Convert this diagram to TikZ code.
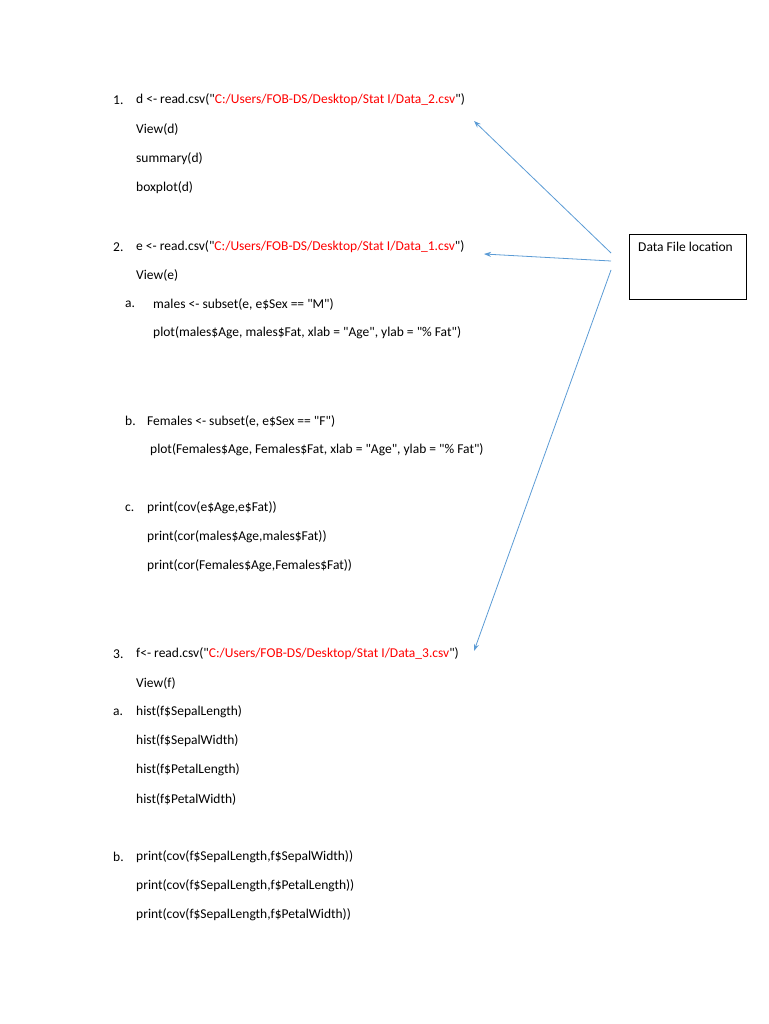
\documentclass[tikz,border=0pt]{standalone}
\usepackage{fontspec}
\setmainfont{Carlito}
\usetikzlibrary{arrows.meta}
\definecolor{arr}{RGB}{91,155,213}
\definecolor{pathred}{RGB}{255,0,0}
\begin{document}
\begin{tikzpicture}[x=1pt,y=-1pt,
  t/.style={anchor=west,inner sep=0pt,font=\fontsize{13.5}{15}\selectfont},
  conn/.style={draw=arr,line width=0.8pt,-{Stealth[length=7pt,width=5pt]}}]
\useasboundingbox (0,0) rectangle (768,1024);
\newcommand{\rp}[1]{\textcolor{pathred}{#1}}
\newcommand{\qq}{\textquotedbl}
\node[t] (n1) at (113,100) {1.};
\node[t] (l1) at (136,100) {d <- read.csv(\qq\rp{C:/Users/FOB-DS/Desktop/Stat I/Data\_2.csv}\qq)};
\node[t] (l2) at (136,130) {View(d)};
\node[t] (l3) at (136,159) {summary(d)};
\node[t] (l4) at (136,188) {boxplot(d)};
\node[t] (n2) at (113,247) {2.};
\node[t] (l5) at (136,247) {e <- read.csv(\qq\rp{C:/Users/FOB-DS/Desktop/Stat I/Data\_1.csv}\qq)};
\node[t] (l6) at (136,275) {View(e)};
\node[t] (na) at (125,304) {a.};
\node[t] (l7) at (153,304) {males <- subset(e, e\$Sex == \qq M\qq)};
\node[t] (l8) at (153,333) {plot(males\$Age, males\$Fat, xlab = \qq Age\qq, ylab = \qq\% Fat\qq)};
\node[t] (nb) at (125,421) {b.};
\node[t] (l9) at (147,421) {Females <- subset(e, e\$Sex == \qq F\qq)};
\node[t] (l10) at (150,450) {plot(Females\$Age, Females\$Fat, xlab = \qq Age\qq, ylab = \qq\% Fat\qq)};
\node[t] (nc) at (125,508) {c.};
\node[t] (l11) at (147,508) {print(cov(e\$Age,e\$Fat))};
\node[t] (l12) at (147,537) {print(cor(males\$Age,males\$Fat))};
\node[t] (l13) at (147,566) {print(cor(Females\$Age,Females\$Fat))};
\node[t] (n3) at (113,654) {3.};
\node[t] (l14) at (136,654) {f<- read.csv(\qq\rp{C:/Users/FOB-DS/Desktop/Stat I/Data\_3.csv}\qq)};
\node[t] (l15) at (136,683) {View(f)};
\node[t] (na2) at (113,712) {a.};
\node[t] (l16) at (136,712) {hist(f\$SepalLength)};
\node[t] (l17) at (136,741) {hist(f\$SepalWidth)};
\node[t] (l18) at (136,770) {hist(f\$PetalLength)};
\node[t] (l19) at (136,799) {hist(f\$PetalWidth)};
\node[t] (nb2) at (113,857) {b.};
\node[t] (l20) at (136,857) {print(cov(f\$SepalLength,f\$SepalWidth))};
\node[t] (l21) at (136,886) {print(cov(f\$SepalLength,f\$PetalLength))};
\node[t] (l22) at (136,915) {print(cov(f\$SepalLength,f\$PetalWidth))};
\node[draw,line width=0.8pt,minimum width=117pt,minimum height=65pt,inner sep=0pt] (box) at (687.5,266.5) {};
\node[t] (bt) at (638,247) {Data File location};
\coordinate (s1) at (611,253);
\coordinate (s2) at (611,261);
\coordinate (s3) at (611,270);
\coordinate (e1) at (474,121);
\coordinate (e2) at (484,254);
\coordinate (e3) at (474,651);
\draw[conn] (s1) -- (e1);
\draw[conn] (s2) -- (e2);
\draw[conn] (s3) -- (e3);
\end{tikzpicture}
\end{document}
